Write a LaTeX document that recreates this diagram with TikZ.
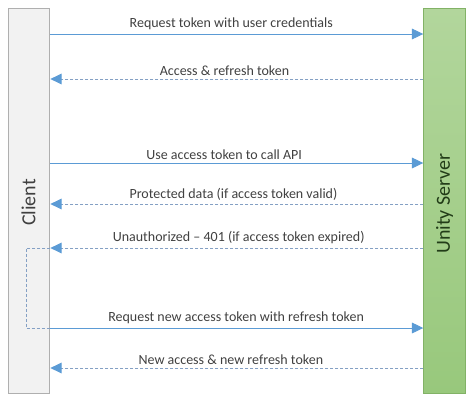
\documentclass[tikz,border=0pt]{standalone}
\usepackage{fontspec}
\setmainfont{Carlito}
\usetikzlibrary{arrows.meta,positioning}

\definecolor{clientfill}{RGB}{242,242,242}
\definecolor{clientline}{RGB}{175,175,175}
\definecolor{servertop}{RGB}{178,214,156}
\definecolor{serverbottom}{RGB}{152,200,124}
\definecolor{serverline}{RGB}{130,178,102}
\definecolor{arrowblue}{RGB}{91,155,213}
\definecolor{dashblue}{RGB}{132,160,196}
\definecolor{textgray}{RGB}{64,64,64}
\definecolor{servertext}{RGB}{34,60,24}

\tikzset{every picture/.style={line width=0.75pt}}
\tikzset{
  lane/.style={anchor=north west, inner sep=0pt, minimum width=31pt, minimum height=288.5pt},
  call/.style={draw=arrowblue, -{Triangle[length=8.5pt,width=8pt,color=arrowblue]}},
  reply/.style={draw=dashblue, dash pattern=on 2.25pt off 1.5pt, -{Triangle[length=8.5pt,width=8pt,color=arrowblue]}},
  loopback/.style={draw=dashblue, dash pattern=on 2.25pt off 1.5pt},
  msg/.style={above, inner sep=2.5pt, text=textgray, font=\fontsize{10.5}{12}\selectfont},
}

\begin{document}
\begin{tikzpicture}[x=0.75pt,y=0.75pt,yscale=-1,xscale=1]
\useasboundingbox (0,0) rectangle (474,404);

%Shape: Rectangle
\node[lane, draw=clientline, fill=clientfill] (client) at (8,8) {};
%Shape: Rectangle
\node[lane, draw=serverline, top color=servertop, bottom color=serverbottom] (server) at (423.3,8) {};

% Text Node
\node[rotate=90, text=textgray, font=\fontsize{15}{17}\selectfont] (clientlbl) at (28.6,202.5) {Client};
% Text Node
\node[rotate=90, text=servertext, font=\fontsize{15}{17}\selectfont] (serverlbl) at (444.5,203.5) {Unity Server};

%Straight Lines
\coordinate (c1) at (client.east |- 0,34);
\coordinate (s1) at (server.west |- 0,34);
\draw[call] (c1) -- (s1) node[msg, pos=0.485] {Request token with user credentials};
%Straight Lines
\coordinate (c2) at (client.east |- 0,79);
\coordinate (s2) at (server.west |- 0,79);
\draw[reply] (s2) -- (c2) node[msg, pos=0.533] {Access \& refresh token};
%Straight Lines
\coordinate (c3) at (client.east |- 0,163);
\coordinate (s3) at (server.west |- 0,163);
\draw[call] (c3) -- (s3) node[msg, pos=0.466] {Use access token to call API};
%Straight Lines
\coordinate (c4) at (client.east |- 0,204);
\coordinate (s4) at (server.west |- 0,204);
\draw[reply] (s4) -- (c4) node[msg, pos=0.509] {Protected data (if access token valid)};
%Straight Lines
\coordinate (c5) at (client.east |- 0,248);
\coordinate (s5) at (server.west |- 0,248);
\draw[reply] (s5) -- (c5) node[msg, pos=0.495] {Unauthorized – 401 (if access token expired)};
%Straight Lines
\coordinate (c6) at (client.east |- 0,328);
\coordinate (s6) at (server.west |- 0,328);
\draw[call] (c6) -- (s6) node[msg, pos=0.498] {Request new access token with refresh token};
%Straight Lines
\coordinate (c7) at (client.east |- 0,368);
\coordinate (s7) at (server.west |- 0,368);
\draw[reply] (s7) -- (c7) node[msg, pos=0.516] {New access \& new refresh token};

%Straight Lines (retry loop)
\coordinate (turn) at (26,248);
\draw[loopback] (c5) -- (turn) |- (c6);

\end{tikzpicture}
\end{document}
